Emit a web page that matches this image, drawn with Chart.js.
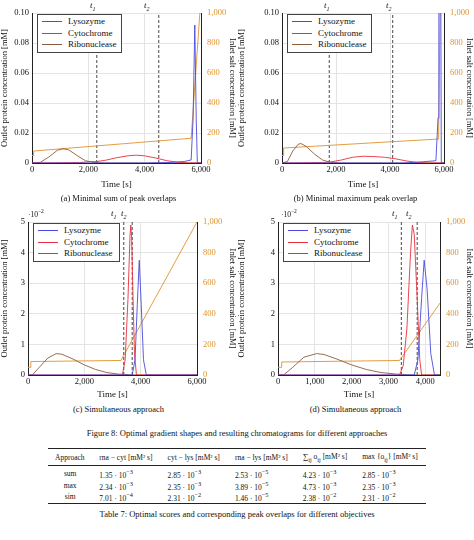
<!DOCTYPE html>
<html><head><meta charset="utf-8">
<script src="https://cdn.jsdelivr.net/npm/chart.js@4"></script>
<style>
body{margin:0;width:474px;height:540px;position:relative;background:#fff;font-family:"Liberation Serif",serif;color:#111;overflow:hidden}
canvas{position:absolute}
.abs{position:absolute;white-space:nowrap}
.cap{position:absolute;font-size:8.5px;text-align:center;color:#111}
.leg{position:absolute;border:1px solid #444;background:#fff;font-size:9px;padding:1px 4px;white-space:nowrap}
.leg div{height:11.5px;line-height:11.5px;white-space:nowrap}
.leg span.l{display:inline-block;width:20px;height:0;border-top:1px solid;vertical-align:middle;margin-right:6px}
.t{position:absolute;font-size:9px;font-style:italic}
table{border-collapse:collapse;font-size:7.5px;color:#111}
td,th{font-weight:normal;padding:0 7px;text-align:left;height:8px;white-space:nowrap}
</style></head><body>
<canvas id="ca" style="left:0;top:0" width="237" height="190"></canvas>
<canvas id="cb" style="left:237px;top:0" width="237" height="190"></canvas>
<canvas id="cc" style="left:0;top:200px" width="237" height="200"></canvas>
<canvas id="cd" style="left:237px;top:200px" width="237" height="200"></canvas>
<div id="overlay"></div>
<div class="cap" style="left:0;width:237px;top:193px">(a) Minimal sum of peak overlaps</div>
<div class="cap" style="left:237px;width:237px;top:193px">(b) Minimal maximum peak overlap</div>
<div class="cap" style="left:0;width:237px;top:404px">(c) Simultaneous approach</div>
<div class="cap" style="left:237px;width:237px;top:404px">(d) Simultaneous approach</div>
<div class="cap" style="left:0;width:474px;top:428px">Figure 8: Optimal gradient shapes and resulting chromatograms for different approaches</div>
<div class="abs" style="left:48px;top:448px;width:378px">
<table id="tbl" style="width:378px;border-top:1.2px solid #222;border-bottom:1.2px solid #222"></table></div>
<div class="cap" style="left:0;width:474px;top:509px">Table 7: Optimal scores and corresponding peak overlaps for different objectives</div>
<script>
const seriesNames=["Lysozyme","Cytochrome","Ribonuclease"];
// (a)
const saltA=[[0,50],[60,50],[60,80],[5650,165],[5960,1000]];
const riboA=[[0,0],[300,0.0005],[600,0.004],[900,0.0085],[1100,0.0095],[1300,0.0088],[1600,0.005],[1900,0.0015],[2200,0.0003],[2600,0],[6000,0]];
const cytoA=[[0,0],[1700,0.0003],[2000,0.0008],[2300,0.001],[2600,0.0018],[3000,0.0035],[3400,0.0048],[3700,0.0052],[4000,0.0048],[4400,0.0033],[4800,0.0015],[5200,0.0004],[5600,0],[6000,0]];
const lysoA=[[0,0],[4000,0],[4800,0.0003],[5400,0.001],[5650,0.002],[5720,0.03],[5780,0.092],[5830,0.03],[5870,0],[6000,0]];
const tA=[2300,4500];
// (b)
const saltB=[[0,50],[60,50],[60,100],[5800,160],[5860,1100]];
const riboB=[[0,0],[200,0.001],[400,0.008],[600,0.0125],[700,0.013],[900,0.011],[1200,0.006],[1500,0.002],[1800,0.0004],[2200,0],[6000,0]];
const cytoB=[[0,0],[1500,0.0003],[1800,0.0007],[2200,0.002],[2600,0.0038],[3000,0.0045],[3400,0.0043],[3800,0.0038],[4200,0.0028],[4600,0.0014],[5000,0.0004],[5400,0],[6000,0]];
const lysoB=[[0,0],[4500,0],[5200,0.0008],[5700,0.0015],[5780,0.03],[5810,0.12],[5880,0.12],[5900,0],[6000,0]];
const tB=[1750,4100];
// (c) values in 1e-2 mM
const saltC=[[0,50],[100,50],[100,88],[3300,95],[6000,1000]];
const riboC=[[0,0],[150,0],[400,0.25],[700,0.55],[1000,0.7],[1200,0.68],[1600,0.52],[2000,0.33],[2400,0.18],[2800,0.08],[3200,0.03],[3600,0.01],[4000,0],[6000,0]];
const cytoC=[[0,0],[3350,0],[3450,0.5],[3550,2.5],[3620,4.5],[3650,4.9],[3680,4.5],[3730,2.5],[3780,0.7],[3850,0],[6000,0]];
const lysoC=[[0,0],[3700,0],[3800,0.5],[3880,2.3],[3950,3.75],[4020,2.3],[4100,0.5],[4200,0],[6000,0]];
const tC=[3400,3700];
// (d)
const saltD=[[0,50],[100,50],[100,85],[3300,95],[4400,470]];
const riboD=[[0,0],[150,0],[400,0.25],[700,0.58],[1050,0.7],[1250,0.67],[1600,0.52],[2000,0.33],[2400,0.18],[2800,0.08],[3200,0.03],[3500,0.01],[3800,0],[4400,0]];
const cytoD=[[0,0],[3300,0],[3400,0.3],[3500,1.5],[3600,4],[3650,4.9],[3700,4.6],[3780,2.5],[3850,0.5],[3900,0],[4400,0]];
const lysoD=[[0,0],[3700,0],[3800,0.5],[3900,2.5],[3970,3.75],[4050,2.8],[4150,0.7],[4250,0],[4400,0]];
const tD=[3350,3780];
const xTicks6000=[0,2000,4000,6000];
const xTicks4400=[0,1000,2000,3000,4000];

const tableHead=["Approach","rna − cyt [mM² s]","cyt − lys [mM² s]","rna − lys [mM² s]","∑<sub>ij</sub> o<sub>ij</sub> [mM² s]","max {o<sub>ij</sub>} [mM² s]"];
const tableRows=[
["sum","1.35 · 10<sup>−3</sup>","2.85 · 10<sup>−3</sup>","2.53 · 10<sup>−5</sup>","4.23 · 10<sup>−3</sup>","2.85 · 10<sup>−3</sup>"],
["max","2.34 · 10<sup>−3</sup>","2.35 · 10<sup>−3</sup>","3.89 · 10<sup>−5</sup>","4.73 · 10<sup>−3</sup>","2.35 · 10<sup>−3</sup>"],
["sim","7.01 · 10<sup>−4</sup>","2.31 · 10<sup>−2</sup>","1.46 · 10<sup>−5</sup>","2.38 · 10<sup>−2</sup>","2.31 · 10<sup>−2</sup>"]];

const COL={lyso:"#4a4ae0",cyto:"#e8303c",ribo:"#8c5c3c",salt:"#e0922e"};
const FONT="Liberation Serif";
function pts(a){return a.map(p=>({x:p[0],y:p[1]}));}
function make(id,o){
  const ymax=o.ymax;
  const ds=[
    {data:pts(o.lyso),borderColor:COL.lyso,yAxisID:'y'},
    {data:pts(o.cyto),borderColor:COL.cyto,yAxisID:'y'},
    {data:pts(o.ribo),borderColor:COL.ribo,yAxisID:'y'},
    {data:pts(o.salt),borderColor:COL.salt,yAxisID:'y1'},
    {data:[{x:o.t[0],y:0},{x:o.t[0],y:ymax}],borderColor:'#333',borderDash:[3,2],yAxisID:'y'},
    {data:[{x:o.t[1],y:0},{x:o.t[1],y:ymax}],borderColor:'#333',borderDash:[3,2],yAxisID:'y'}
  ].map(d=>Object.assign({borderWidth:0.9,pointRadius:0,tension:0,fill:false},d));
  const tf={family:FONT,size:8.5};
  new Chart(document.getElementById(id),{type:'line',data:{datasets:ds},
   options:{responsive:false,animation:false,events:[],
    layout:{padding:{top:o.top,left:0,right:0,bottom:0}},
    plugins:{legend:{display:false},tooltip:{enabled:false}},
    scales:{
     x:{type:'linear',min:0,max:o.xmax,ticks:{color:'#111',font:tf,padding:2,maxRotation:0,autoSkip:false},
        afterBuildTicks:s=>{s.ticks=o.xt.map(v=>({value:v}));},
        grid:{color:'#e4e4e4',tickLength:0},border:{color:'#222'},
        title:{display:true,text:'Time [s]',font:{family:FONT,size:9},color:'#111',padding:{top:2,bottom:0}},
        afterFit:s=>{s.height=o.xh;}},
     y:{min:0,max:ymax,position:'left',ticks:{stepSize:o.ystep,color:'#111',font:tf,padding:3},
        grid:{color:'#e4e4e4',tickLength:0},border:{color:'#222'},
        title:{display:true,text:'Outlet protein concentration [mM]',font:{family:FONT,size:8.5},color:'#111',padding:0},
        afterFit:s=>{s.width=o.lw;}},
     y1:{min:0,max:1000,position:'right',ticks:{stepSize:200,color:COL.salt,font:tf,padding:3},
        grid:{display:false,tickLength:3},border:{color:'#222'},
        title:{display:true,text:'Inlet salt concentration [mM]',font:{family:FONT,size:8.5},color:'#111',padding:0},
        afterFit:s=>{s.width=o.rw;}}
    }}});
}
make('ca',{lyso:lysoA,cyto:cytoA,ribo:riboA,salt:saltA,t:tA,ymax:0.1,ystep:0.02,xmax:6000,xt:xTicks6000,top:13,xh:27,lw:32,rw:36});
make('cb',{lyso:lysoB,cyto:cytoB,ribo:riboB,salt:saltB,t:tB,ymax:0.1,ystep:0.02,xmax:6000,xt:xTicks6000,top:13,xh:27,lw:45,rw:30});
make('cc',{lyso:lysoC,cyto:cytoC,ribo:riboC,salt:saltC,t:tC,ymax:5,ystep:1,xmax:6000,xt:xTicks6000,top:22,xh:25,lw:28,rw:40});
make('cd',{lyso:lysoD,cyto:cytoD,ribo:riboD,salt:saltD,t:tD,ymax:5,ystep:1,xmax:4400,xt:xTicks4400,top:22,xh:25,lw:41,rw:34});

const ov=document.getElementById('overlay');
function leg(x,y,w){
  const cols=[COL.lyso,COL.cyto,COL.ribo];
  let h='<div class="leg" style="left:'+x+'px;top:'+y+'px;width:'+w+'px">';
  seriesNames.forEach((n,i)=>{h+='<div><span class="l" style="border-color:'+cols[i]+'"></span>'+n+'</div>';});
  ov.insertAdjacentHTML('beforeend',h+'</div>');
}
leg(37,14,75);leg(287,14,75);leg(33,223,77);leg(283,223,77);
function tl(x,y,s){ov.insertAdjacentHTML('beforeend','<div class="t" style="left:'+x+'px;top:'+y+'px">t<sub style="font-size:6px">'+s+'</sub></div>');}
tl(90,0,1);tl(144,0,2);tl(324,0,1);tl(386,0,2);
tl(111,208,1);tl(121,208,2);tl(392,208,1);tl(406,208,2);
ov.insertAdjacentHTML('beforeend','<div class="abs" style="left:28px;top:208px;font-size:7.5px">·10<sup style="font-size:5.5px">−2</sup></div>');
ov.insertAdjacentHTML('beforeend','<div class="abs" style="left:281px;top:208px;font-size:7.5px">·10<sup style="font-size:5.5px">−2</sup></div>');

let th='<tr style="border-bottom:0.8px solid #222">'+tableHead.map(c=>'<th style="height:16px">'+c+'</th>').join('')+'</tr>';
tableRows.forEach((r,i)=>{th+='<tr>'+r.map((c,j)=>'<td style="'+(j==0?'text-align:center;':'')+(i==0?'padding-top:2px;':'')+'">'+c+'</td>').join('')+'</tr>';});
document.getElementById('tbl').innerHTML=th;
</script>
</body></html>
